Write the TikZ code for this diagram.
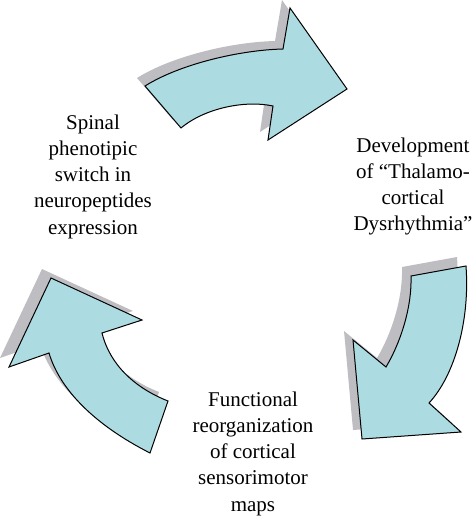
\documentclass[tikz,border=0pt]{standalone}
\usepackage{fontspec}
\setmainfont{Liberation Serif}
\definecolor{arrowfill}{RGB}{172,220,226}
\definecolor{shadowgray}{RGB}{190,190,194}
\tikzset{
  bigarrow/.style={fill=arrowfill, draw=black, line width=1pt, line join=miter},
  arrowshadow/.style={fill=shadowgray, draw=none},
  label/.style={align=center, inner sep=0pt, anchor=north, font=\fontsize{21}{26.2}\selectfont}
}
\begin{document}
\begin{tikzpicture}[x=1pt,y=-1pt]
\useasboundingbox (0,0) rectangle (474,517);
% top arrow
\def\toparrow{(145,86) .. controls (180,64) and (240,50) .. (283,49) -- (290,8) -- (347,89) -- (268,140) -- (273,106) .. controls (245,100) and (205,108) .. (181,128) -- cycle}
\def\rightarrow{(411,276) -- (466,266) .. controls (470,320) and (455,375) .. (429,403) -- (461,432) -- (362,439) -- (353,340) -- (386,367) .. controls (402,340) and (412,305) .. (411,276) -- cycle}
\def\leftarrow{(51,278) -- (142,320) -- (102,333) .. controls (110,365) and (135,388) .. (168,401) -- (150,453) .. controls (95,425) and (60,390) .. (49,353) -- (9,367) -- cycle}
\begin{scope}[shift={(-8,-8)}]
  \fill[arrowshadow] \toparrow;
\end{scope}
\begin{scope}[shift={(-9,-9)}]
  \fill[arrowshadow] \rightarrow;
  \fill[arrowshadow] \leftarrow;
\end{scope}
\path[bigarrow] \toparrow;
\path[bigarrow] \rightarrow;
\path[bigarrow] \leftarrow;
\node[label] (spinal) at (93,114.5) {Spinal\\phenotipic\\switch in\\neuropeptides\\expression};
\node[label] (thal) at (413,137.5) {Development\\of “Thalamo-\\cortical\\Dysrhythmia”};
\node[label] (func) at (253,391.5) {Functional\\reorganization\\of cortical\\sensorimotor\\maps};
\end{tikzpicture}
\end{document}
